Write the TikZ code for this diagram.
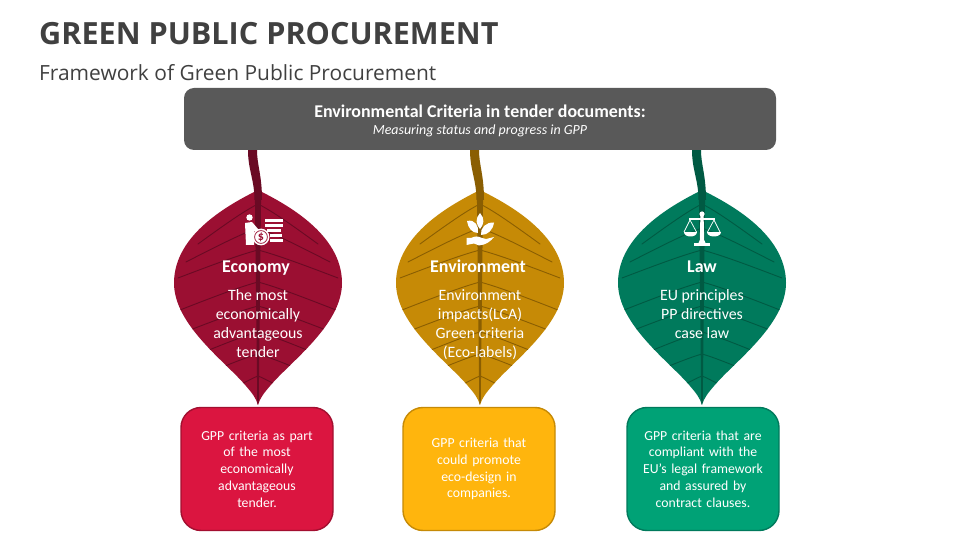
\documentclass[tikz,border=0pt]{standalone}
\usepackage{fontspec}
\setmainfont{Carlito}
\newfontfamily\titlefont{Open Sans}
\definecolor{leafA}{HTML}{9B0F32}\definecolor{veinA}{HTML}{6A0A24}
\definecolor{leafB}{HTML}{C68A06}\definecolor{veinB}{HTML}{8A5E02}
\definecolor{leafC}{HTML}{007A5C}\definecolor{veinC}{HTML}{005A43}
\definecolor{boxA}{HTML}{DB1540}\definecolor{edgeA}{HTML}{A30F30}
\definecolor{boxB}{HTML}{FFB50D}\definecolor{edgeB}{HTML}{C68A06}
\definecolor{boxC}{HTML}{00A276}\definecolor{edgeC}{HTML}{007A5C}
\definecolor{inkT}{HTML}{404040}
\definecolor{barG}{HTML}{595959}
\tikzset{
  leafhead/.style={text=white,font=\fontsize{18}{20}\selectfont\bfseries,anchor=center,text height=12bp,text depth=4bp},
  leafbody/.style={text=white,font=\fontsize{15.9}{19}\selectfont,align=center,anchor=north},
  notebox/.style={rounded corners=20bp,line width=1.4bp,minimum width=152bp,minimum height=123bp,
    text width=145bp,align=center,text=white,font=\fontsize{13.8}{16.8}\selectfont,inner sep=0pt},
  vein/.style={line width=.9bp,line cap=round}
}
\newcommand{\leafpath}{(0,190) .. controls (28,204) and (84,234) .. (84,283)
   .. controls (84,325) and (32,362) .. (12,386) .. controls (6,393) and (2,398) .. (0,405)
   .. controls (-2,398) and (-6,393) .. (-12,386) .. controls (-32,362) and (-84,325) .. (-84,283)
   .. controls (-84,234) and (-28,204) .. (0,190) -- cycle}
\newcommand{\leafat}[3]{%
 \begin{scope}[shift={(#1,0)}]
  \fill[#2] \leafpath;
  \begin{scope}
   \clip \leafpath;
   \foreach \sy/\ex/\ey in {204/60/244,228/72/262,250/80/278,282/78/310,306/68/330,332/54/352,354/38/368,376/20/386}{
     \draw[vein,#3] (0,\sy) .. controls ({\ex*.2},{\sy+(\ey-\sy)*.15}) and ({\ex*.45},{\sy+(\ey-\sy)*.4}) .. (\ex,\ey);
     \draw[vein,#3] (0,\sy) .. controls ({-\ex*.2},{\sy+(\ey-\sy)*.15}) and ({-\ex*.45},{\sy+(\ey-\sy)*.4}) .. (-\ex,\ey);
   }
   \fill[#3] (-3.2,186) -- (3.2,186) -- (.7,405) -- (-.7,405) -- cycle;
  \end{scope}
  \fill[#3] (-10,150) -- (-1,150) .. controls (-1,165) and (4,175) .. (4,200) -- (-3.5,200)
     .. controls (-3.5,180) and (-10,170) .. (-10,150) -- cycle;
 \end{scope}}
\begin{document}
\begin{tikzpicture}[x=1bp,y=-1bp]
\useasboundingbox (0,0) rectangle (960,540);
\fill[white] (0,0) rectangle (960,540);
\node[anchor=west,text=inkT,inner sep=0pt,font=\titlefont\fontsize{30.7}{36}\selectfont\bfseries] (title) at (39,34) {GREEN PUBLIC PROCUREMENT};
\node[anchor=west,text=inkT,inner sep=0pt,font=\titlefont\fontsize{21}{24}\selectfont] (subtitle) at (39,73) {Framework of Green Public Procurement};

\leafat{258}{leafA}{veinA}
\leafat{480}{leafB}{veinB}
\leafat{702}{leafC}{veinC}

\fill[rounded corners=10bp,barG] (184,88) rectangle (776,150);
\node[text=white,font=\fontsize{18}{20}\selectfont\bfseries,inner sep=0pt] (barhead) at (480,111) {Environmental Criteria in tender documents:};
\node[text=white,font=\fontsize{14}{15}\selectfont\itshape,inner sep=0pt] (barsub) at (480,130.5) {Measuring status and progress in GPP};

\begin{scope}[shift={(258,0)}]
 \fill[white] (-8.5,217.5) circle (3.2);
 \fill[white] (-13,223) -- (-6,222) -- (0,229) -- (-1,232) -- (-4,231) -- (-4,245) -- (-12,245) -- cycle;
 \fill[white] (3,237) circle (8.4);
 \draw[leafA,line width=.7bp] (3,237) circle (6.4);
 \node[text=leafA,inner sep=0pt,font=\fontsize{12}{12}\selectfont\bfseries] (coin) at (3,237) {\$};
 \foreach \y/\a/\b in {219/7/25,224/7/25,229/9/23,234/12/24,239/12/25}
   \fill[white] (\a,\y) rectangle (\b,\y+3.3);
\end{scope}
\begin{scope}[shift={(480,0)}]
 \fill[white] (0,213) .. controls (5,218) and (4,225) .. (0,229) .. controls (-4,225) and (-5,218) .. (0,213) -- cycle;
 \fill[white] (-13,221) .. controls (-5,219) and (-1,226) .. (-2,233) .. controls (-8,233) and (-12,228) .. (-13,221) -- cycle;
 \fill[white] (14,222.5) .. controls (6,222) and (0,228) .. (1,235) .. controls (8,235) and (13,230) .. (14,222.5) -- cycle;
 \fill[white] (-13.5,238) -- (-9,238) .. controls (-5,236) and (-2,236) .. (2,238) -- (6,239) -- (14,237) .. controls (11,241) and (6,245) .. (-1,245.5) -- (-6,243.5) -- (-13.5,245) -- cycle;
\end{scope}
\begin{scope}[shift={(702,0)}]
 \fill[white] (0,214) circle (2.6);
 \fill[white] (-1.6,216) -- (1.6,216) -- (2.2,240) -- (3.5,243) -- (-3.5,243) -- (-2.2,240) -- cycle;
 \fill[white] (-8,243) rectangle (8,246.5);
 \fill[white] (-13,218.4) rectangle (13,220.4);
 \draw[white,line width=.7bp] (-5.5,232) -- (-12,220) -- (-18,232) (5.5,232) -- (12,220) -- (18,232);
 \fill[white] (-18.5,231.6) -- (-5,231.6) .. controls (-5,238) and (-18.5,238) .. (-18.5,231.6) -- cycle;
 \fill[white] (5,231.6) -- (18.5,231.6) .. controls (18.5,238) and (5,238) .. (5,231.6) -- cycle;
\end{scope}

\node[leafhead] (ecoh) at (256,268.5) {Economy};
\node[leafbody] (ecob) at (258,286) {The most\\economically\\advantageous\\tender};
\node[leafhead] (envh) at (478,268.5) {Environment};
\node[leafbody] (envb) at (480,286) {Environment\\impacts(LCA)\\Green criteria\\(Eco-labels)};
\node[leafhead] (lawh) at (702,268.5) {Law};
\node[leafbody] (lawb) at (702,286) {EU principles\\PP directives\\case law};

\node[notebox,fill=boxA,draw=edgeA] (noteA) at (257,469) {GPP criteria as part\\of the most\\economically\\advantageous\\tender.};
\node[notebox,fill=boxB,draw=edgeB] (noteB) at (479,469) {GPP criteria that\\could promote\\eco-design in\\companies.};
\node[notebox,fill=boxC,draw=edgeC] (noteC) at (703,469) {GPP criteria that are\\compliant with the\\EU’s legal framework\\and assured by\\contract clauses.};
\end{tikzpicture}
\end{document}
